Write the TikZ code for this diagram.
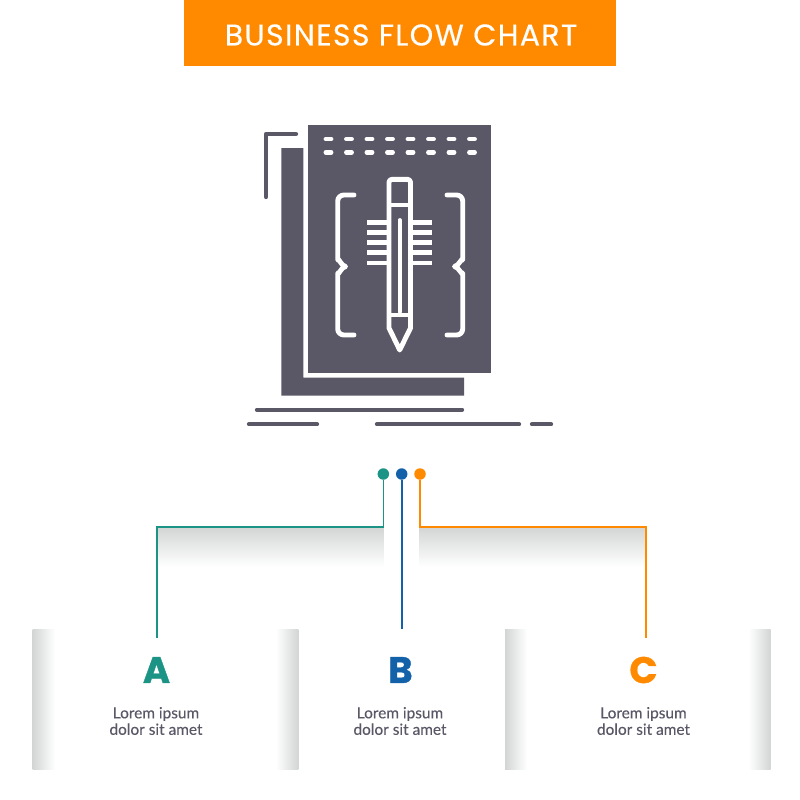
\documentclass[tikz,border=0pt]{standalone}
\usepackage{fontspec}
\setmainfont[FakeBold=0.25]{Lato}
\newfontfamily\headfont[LetterSpace=4.5,FakeBold=0.35]{Poppins}
\newfontfamily\letterfont[FakeBold=0.9]{Poppins}
\usetikzlibrary{positioning}
\definecolor{slate}{HTML}{5A5866}
\definecolor{teal1}{HTML}{1C9485}
\definecolor{blue1}{HTML}{1261A9}
\definecolor{orange1}{HTML}{FF8A00}
\definecolor{shade1}{HTML}{D3D5D5}
\definecolor{shade2}{HTML}{F3F3F3}
\tikzset{
    whiteline/.style={draw=white, line width=4.9pt, line cap=round, line join=round},
    darkline/.style={draw=slate, line width=4.3pt, line cap=round, line join=round},
    dotnode/.style={circle, minimum size=11.5pt, inner sep=0pt},
    letternode/.style={font=\letterfont\fontsize{37}{37}\selectfont\bfseries},
    textnode/.style={text=slate, align=center, font=\fontsize{15.4}{16.5}\selectfont},
    wire/.style={line width=1.6pt}
}

\begin{document}
\begin{tikzpicture}[x=1pt, y=-1pt]
    \useasboundingbox (0,0) rectangle (800,800);

    \fill[orange1] (184,0) rectangle (616,66);
    \node[text=white, font=\headfont\fontsize{30}{30}\selectfont] (title) at (401,35) {BUSINESS FLOW CHART};

    \fill[slate] (308.3,125) rectangle (491,372.7);
    \fill[slate] (281.3,148) -- (303.3,148) -- (303.3,377.7) -- (464,377.7) -- (464,395.7) -- (281.3,395.7) -- cycle;
    \draw[darkline] (296,134) -- (266,134) -- (266,197);

    \foreach \i in {0,...,7} {
        \draw[whiteline] ({326+20.5*\i},139) -- ({331+20.5*\i},139);
        \draw[whiteline] ({326+20.5*\i},152.3) -- ({331+20.5*\i},152.3);
    }

    \foreach \y in {222.3,232.5,242.7,252.8,263} {
        \draw[whiteline, line cap=butt] (367,\y) -- (389,\y);
        \draw[whiteline, line cap=butt] (410.5,\y) -- (432,\y);
    }

    \draw[whiteline] (392,179.3) -- (407.5,179.3) to[out=0, in=90] (410.5,182.3) -- (410.5,328) -- (399.7,350) -- (389,328) -- (389,182.3) to[out=90, in=180] (392,179.3);
    \draw[whiteline, line cap=butt] (389,205) -- (410.5,205);
    \draw[whiteline, line cap=butt] (389,315) -- (410.5,315);
    \draw[whiteline, line width=3.8pt] (399.7,220) -- (399.7,312);

    \draw[whiteline] (354,195) -- (344,195) to[out=180, in=90] (337.7,201) -- (337.7,260) to[out=90, in=180] (345.5,266.5) to[out=180, in=270] (337.7,273) -- (337.7,329) to[out=270, in=180] (344,335) -- (354,335);
    \draw[whiteline] (447,195) -- (456.5,195) to[out=0, in=90] (462.7,201) -- (462.7,260) to[out=90, in=0] (454.5,266.5) to[out=0, in=270] (462.7,273) -- (462.7,329) to[out=270, in=0] (456.5,335) -- (447,335);

    \draw[darkline] (257,409.7) -- (462,409.7);
    \draw[darkline] (249,424.3) -- (317,424.3);
    \draw[darkline] (377,424.3) -- (519,424.3);
    \draw[darkline] (532,424.3) -- (551,424.3);

    \shade[top color=shade1, middle color=shade2, bottom color=white] (157,527) rectangle (383.5,567);
    \shade[top color=shade1, middle color=shade2, bottom color=white] (419,527) rectangle (645.7,567);

    \shade[left color=shade1, middle color=shade2, right color=white] (32.7,629.3) rectangle (55,769);
    \shade[left color=white, middle color=shade2, right color=shade1] (276,629.3) rectangle (298.3,769);
    \shade[left color=shade1, middle color=shade2, right color=white] (505,629.3) rectangle (527,769);
    \shade[left color=white, middle color=shade2, right color=shade1] (748.5,629.3) rectangle (770.7,769);

    \node[dotnode, fill=teal1] (dota) at (383.3,474) {};
    \node[dotnode, fill=blue1] (dotb) at (401.7,474) {};
    \node[dotnode, fill=orange1] (dotc) at (420,474) {};

    \node[letternode, text=teal1] (lettera) at (156.5,670) {A};
    \node[letternode, text=blue1] (letterb) at (400.5,670) {B};
    \node[letternode, text=orange1] (letterc) at (643.5,670) {C};

    \node[textnode] (texta) at (156,721) {Lorem ipsum\\dolor sit amet};
    \node[textnode] (textb) at (400,721) {Lorem ipsum\\dolor sit amet};
    \node[textnode] (textc) at (643.5,721) {Lorem ipsum\\dolor sit amet};

    \coordinate (enda) at (157,638);
    \coordinate (endb) at (401.7,629.3);
    \coordinate (endc) at (645.7,638);

    \draw[wire, teal1] (dota) |- (enda |- 0,526.7) -- (enda);
    \draw[wire, blue1] (dotb) -- (endb);
    \draw[wire, orange1] (dotc) |- (endc |- 0,526.7) -- (endc);
\end{tikzpicture}
\end{document}
